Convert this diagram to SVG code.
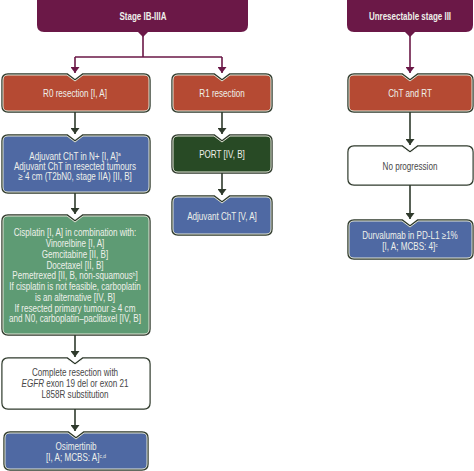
<svg xmlns="http://www.w3.org/2000/svg" xmlns:xlink="http://www.w3.org/1999/xlink" width="474" height="471" viewBox="0 0 474 471">
<style>
.bd{fill:none;stroke:#2f3a2c;stroke-width:3.4}
.red{fill:#b54a33;stroke:#e3e6d8;stroke-width:1}
.blue{fill:#4f69a3;stroke:#e3e6d8;stroke-width:1}
.dg{fill:#284a25;stroke:#e3e6d8;stroke-width:1}
.lg{fill:#5e9b74;stroke:#e3e6d8;stroke-width:1}
.wh{fill:#ffffff;stroke:#ffffff;stroke-width:1}
.pu{fill:#6b1847}
text{font-family:"Liberation Sans",Arial,sans-serif;font-size:10px;text-anchor:middle;fill:#eef0ea}
.b{font-weight:bold}
.dk{fill:#474747}
.sup{font-size:6px}
.cp{fill:none;stroke:#6b1847;stroke-width:1.6}
.cd{fill:none;stroke:#2f3a2c;stroke-width:1.6}
</style>
<defs>
<marker id="ap" viewBox="0 0 6 9" refX="6" refY="4.5" markerWidth="6" markerHeight="9" markerUnits="userSpaceOnUse" orient="auto"><path d="M0,0 L6,4.5 L0,9 z" fill="#6b1847"/></marker>
<marker id="ad" viewBox="0 0 6 9" refX="6" refY="4.5" markerWidth="6" markerHeight="9" markerUnits="userSpaceOnUse" orient="auto"><path d="M0,0 L6,4.5 L0,9 z" fill="#2f3a2c"/></marker>
<path id="pR0" d="M8,75 H67 L75,81 L83,75 H144 Q149,75 149,80 V106 Q149,111 144,111 H8 Q3,111 3,106 V80 Q3,75 8,75 Z"/>
<path id="pR1" d="M178,75 H214 L222,81 L230,75 H266 Q271,75 271,80 V106 Q271,111 266,111 H178 Q173,111 173,106 V80 Q173,75 178,75 Z"/>
<path id="pCR" d="M354,75 H402 L410,81 L418,75 H467 Q472,75 472,80 V106 Q472,111 467,111 H354 Q349,111 349,106 V80 Q349,75 354,75 Z"/>
<path id="pA1" d="M8,136 H67 L75,142 L83,136 H144 Q149,136 149,141 V187 Q149,192 144,192 H8 Q3,192 3,187 V141 Q3,136 8,136 Z"/>
<path id="pPO" d="M178,136 H214 L222,142 L230,136 H266 Q271,136 271,141 V167 Q271,172 266,172 H178 Q173,172 173,167 V141 Q173,136 178,136 Z"/>
<path id="pA2" d="M178,197 H214 L222,203 L230,197 H266 Q271,197 271,202 V229 Q271,234 266,234 H178 Q173,234 173,229 V202 Q173,197 178,197 Z"/>
<path id="pCI" d="M8,216 H67 L75,222 L83,216 H144 Q149,216 149,221 V329 Q149,334 144,334 H8 Q3,334 3,329 V221 Q3,216 8,216 Z"/>
<path id="pCO" d="M8,359 H67 L75,365 L83,359 H144 Q149,359 149,364 V403 Q149,408 144,408 H8 Q3,408 3,403 V364 Q3,359 8,359 Z"/>
<path id="pOS" d="M10,433 H68 L76,439 L84,433 H142 Q147,433 147,438 V464 Q147,469 142,469 H10 Q5,469 5,464 V438 Q5,433 10,433 Z"/>
<path id="pNP" d="M354,147 H402 L410,153 L418,147 H467 Q472,147 472,152 V179 Q472,184 467,184 H354 Q349,184 349,179 V152 Q349,147 354,147 Z"/>
<path id="pDU" d="M354,221 H402 L410,227 L418,221 H467 Q472,221 472,226 V253 Q472,258 467,258 H354 Q349,258 349,253 V226 Q349,221 354,221 Z"/>
</defs>
<rect width="474" height="471" fill="#ffffff"/>

<g id="connectors">
<path class="cp" d="M143,36 V57 M75,57 H222"/>
<path class="cp" d="M75,57 V73" marker-end="url(#ap)"/>
<path class="cp" d="M222,57 V73" marker-end="url(#ap)"/>
<path class="cp" d="M410,36 V73" marker-end="url(#ap)"/>
<path class="cd" d="M75,112 V134" marker-end="url(#ad)"/>
<path class="cd" d="M75,193 V214" marker-end="url(#ad)"/>
<path class="cd" d="M75,335 V357" marker-end="url(#ad)"/>
<path class="cd" d="M75,409 V431" marker-end="url(#ad)"/>
<path class="cd" d="M222,112 V134" marker-end="url(#ad)"/>
<path class="cd" d="M222,173 V195" marker-end="url(#ad)"/>
<path class="cd" d="M410,112 V145" marker-end="url(#ad)"/>
<path class="cd" d="M410,185 V219" marker-end="url(#ad)"/>
</g>

<g id="stage-ib-iiia">
<path class="pu" d="M37,-8 H248 V25 Q248,32 241,32 H148 L143,37 L138,32 H44 Q37,32 37,25 Z"/>
<g transform="translate(143 0) scale(0.8 1)"><text class="b" x="0" y="20.5">Stage IB-IIIA</text></g>
</g>

<g id="unresectable">
<path class="pu" d="M347,-8 H473 V25 Q473,32 466,32 H415 L410,37 L405,32 H354 Q347,32 347,25 Z"/>
<g transform="translate(410 0) scale(0.8 1)"><text class="b" x="0" y="20.5">Unresectable stage III</text></g>
</g>

<g id="r0">
<use xlink:href="#pR0" class="bd"/><use xlink:href="#pR0" class="red"/>
<g transform="translate(75 0) scale(0.81 1)"><text x="0" y="97">R0 resection [I, A]</text></g>
</g>

<g id="r1">
<use xlink:href="#pR1" class="bd"/><use xlink:href="#pR1" class="red"/>
<g transform="translate(222 0) scale(0.81 1)"><text x="0" y="97">R1 resection</text></g>
</g>

<g id="cht-rt">
<use xlink:href="#pCR" class="bd"/><use xlink:href="#pCR" class="red"/>
<g transform="translate(410 0) scale(0.81 1)"><text x="0" y="97">ChT and RT</text></g>
</g>

<g id="adjuvant-cht">
<use xlink:href="#pA1" class="bd"/><use xlink:href="#pA1" class="blue"/>
<g transform="translate(75 0) scale(0.81 1)">
<text x="0" y="159.5">Adjuvant ChT in N+ [I, A]<tspan class="sup" dy="-3.5">a</tspan></text>
<text x="0" y="169.8">Adjuvant ChT in resected tumours</text>
<text x="0" y="180">≥ 4 cm (T2bN0, stage IIA) [II, B]</text>
</g>
</g>

<g id="port">
<use xlink:href="#pPO" class="bd"/><use xlink:href="#pPO" class="dg"/>
<g transform="translate(222 0) scale(0.81 1)"><text x="0" y="158.5">PORT [IV, B]</text></g>
</g>

<g id="adjuvant-cht-va">
<use xlink:href="#pA2" class="bd"/><use xlink:href="#pA2" class="blue"/>
<g transform="translate(222 0) scale(0.81 1)"><text x="0" y="220">Adjuvant ChT [V, A]</text></g>
</g>

<g id="cisplatin">
<use xlink:href="#pCI" class="bd"/><use xlink:href="#pCI" class="lg"/>
<g transform="translate(75 0) scale(0.81 1)">
<text x="0" y="236.5">Cisplatin [I, A] in combination with:</text>
<text x="0" y="247.3">Vinorelbine [I, A]</text>
<text x="0" y="258">Gemcitabine [II, B]</text>
<text x="0" y="268.8">Docetaxel [II, B]</text>
<text x="0" y="279.5">Pemetrexed [II, B, non-squamous<tspan class="sup" dy="-3.5">b</tspan><tspan dy="3.5">]</tspan></text>
<text x="0" y="290.3">If cisplatin is not feasible, carboplatin</text>
<text x="0" y="301">is an alternative [IV, B]</text>
<text x="0" y="311.8">If resected primary tumour ≥ 4 cm</text>
<text x="0" y="322.5">and N0, carboplatin–paclitaxel [IV, B]</text>
</g>
</g>

<g id="complete-resection">
<use xlink:href="#pCO" class="bd"/><use xlink:href="#pCO" class="wh"/>
<g transform="translate(75 0) scale(0.81 1)">
<text class="dk" x="0" y="376.5">Complete resection with</text>
<text class="dk" x="0" y="387.5"><tspan font-style="italic">EGFR</tspan> exon 19 del or exon 21</text>
<text class="dk" x="0" y="398.5">L858R substitution</text>
</g>
</g>

<g id="osimertinib">
<use xlink:href="#pOS" class="bd"/><use xlink:href="#pOS" class="blue"/>
<g transform="translate(76 0) scale(0.81 1)">
<text x="0" y="450.5">Osimertinib</text>
<text x="0" y="461.5">[I, A; MCBS: A]<tspan class="sup" dy="-3.5">c,d</tspan></text>
</g>
</g>

<g id="no-progression">
<use xlink:href="#pNP" class="bd"/><use xlink:href="#pNP" class="wh"/>
<g transform="translate(410 0) scale(0.81 1)"><text class="dk" x="0" y="170.5">No progression</text></g>
</g>

<g id="durvalumab">
<use xlink:href="#pDU" class="bd"/><use xlink:href="#pDU" class="blue"/>
<g transform="translate(410 0) scale(0.81 1)">
<text x="0" y="239.5">Durvalumab in PD-L1 ≥1%</text>
<text x="0" y="250.5">[I, A; MCBS: 4]<tspan class="sup" dy="-3.5">c</tspan></text>
</g>
</g>
</svg>
